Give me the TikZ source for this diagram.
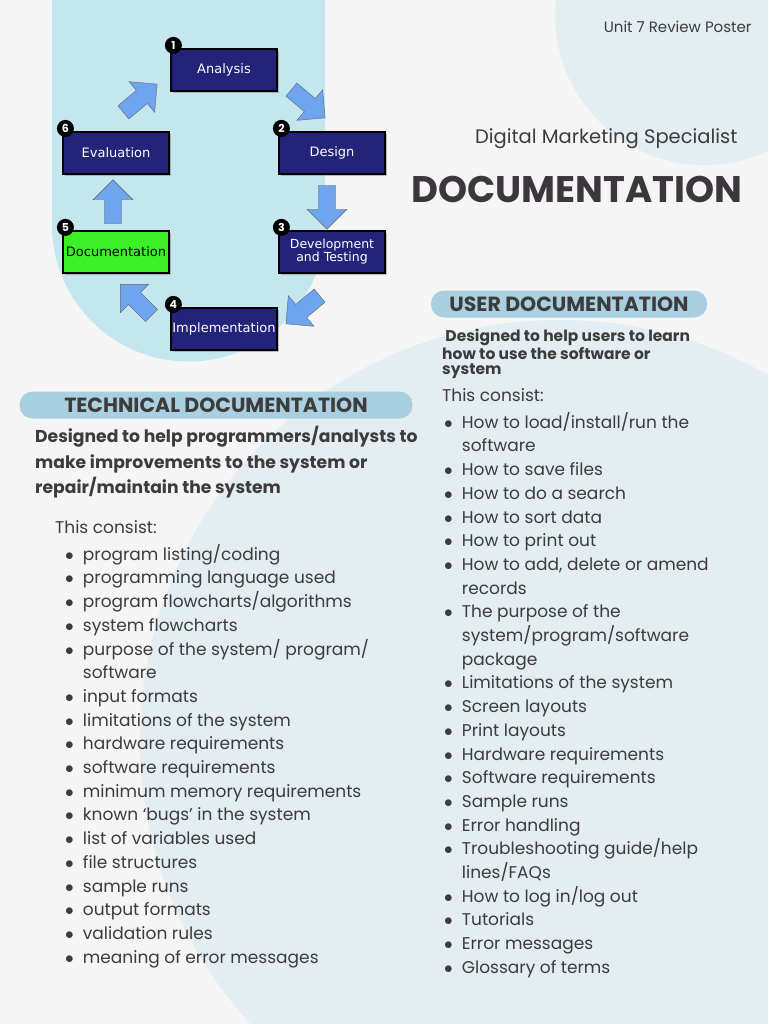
\documentclass[tikz,border=0pt]{standalone}
\usepackage{fontspec}
\setmainfont{Poppins}
\newfontfamily\stagefont{DejaVu Sans}
\usetikzlibrary{shapes.arrows,shadows}
\definecolor{bgc}{HTML}{F5F5F5}
\definecolor{pale}{HTML}{E4EDF1}
\definecolor{skyb}{HTML}{C4E6EF}
\definecolor{pill}{HTML}{A9CFE0}
\definecolor{txt}{HTML}{3C3C3C}
\definecolor{navy}{HTML}{23237A}
\definecolor{arr}{HTML}{6FA4EE}
\tikzset{
  stage/.style={draw=black,line width=1.2pt,fill=navy,text=white,minimum width=106pt,minimum height=42pt,font=\fontsize{13}{14}\selectfont\stagefont,align=center,inner xsep=1pt,drop shadow={shadow xshift=2pt,shadow yshift=-2pt}},
  num/.style={circle,fill=black,text=white,inner sep=0pt,minimum size=17pt,font=\fontsize{11}{11}\selectfont\bfseries},
  barrow/.style={single arrow,draw=black!60,fill=arr,minimum height=44pt,minimum width=40pt,single arrow head extend=7pt,inner sep=5pt},
  pilllab/.style={rounded corners=13pt,fill=pill,text=txt,font=\fontsize{20.5}{21}\selectfont\bfseries,inner sep=0pt},
  body/.style={text=txt,font=\fontsize{17}{23.7}\selectfont,align=left,anchor=north west,inner sep=0pt},
}
\begin{document}
\begin{tikzpicture}[x=1pt,y=-1pt]
\useasboundingbox (0,0) rectangle (768,1024);
\begin{scope}
\clip (0,0) rectangle (768,1024);
\fill[bgc] (0,0) rectangle (768,1024);
\fill[pale] (560,740) circle (420);
\fill[pale] (705,15) circle (150);
\fill[skyb] (52,0) -- (325,0) -- (325,225) arc[start angle=0,end angle=180,radius=136.5] -- cycle;
\end{scope}
% stages
\node[stage] (a) at (224,70) {Analysis};
\node[stage] (d) at (332,153) {Design};
\node[stage] (e) at (116,153) {Evaluation};
\node[stage,text=black,fill={rgb,255:red,60;green,240;blue,40}] (doc) at (116,252) {Documentation};
\node[stage,font=\fontsize{12.5}{13}\selectfont\stagefont] (dev) at (332,252) {Development\\and Testing};
\node[stage] (im) at (224,329) {Implementation};
\foreach \n/\k in {a/1,d/2,dev/3,im/4,doc/5,e/6} \node[num] at ([shift={(3pt,3pt)}]\n.north west) {\k};
% arrows
\node[barrow,rotate=-40] (r1) at (305,101) {};
\node[barrow,rotate=-90] (r2) at (327,203) {};
\node[barrow,rotate=-140] (r3) at (306,307) {};
\node[barrow,rotate=135] (r4) at (139,303) {};
\node[barrow,rotate=90] (r5) at (113,206) {};
\node[barrow,rotate=40] (r6) at (137,101) {};
% header
\node[text=txt,font=\fontsize{15}{16}\selectfont,anchor=east] (unit) at (755,27) {Unit 7 Review Poster};
\node[text=txt,font=\fontsize{19.5}{20}\selectfont,anchor=east] (dms) at (741,139) {Digital Marketing Specialist};
\node[text={rgb,255:red,60;green,55;blue,60},font=\fontsize{37}{38}\selectfont\bfseries,anchor=east] (title) at (746,189) {DOCUMENTATION};
% technical
\node[pilllab,minimum width=393pt,minimum height=27pt] (tp) at (216,405) {TECHNICAL DOCUMENTATION};
\node[body,font=\fontsize{17.2}{25.5}\selectfont\bfseries] (td) at (35,426) {Designed to help programmers/analysts to\\make improvements to the system or\\repair/maintain the system};
\node[body] (tc) at (55,520) {This consist:};
\node[body] (tl) at (65,544) {%
$\bullet$\ \ program listing/coding\\
$\bullet$\ \ programming language used\\
$\bullet$\ \ program flowcharts/algorithms\\
$\bullet$\ \ system flowcharts\\
$\bullet$\ \ purpose of the system/ program/\\
\phantom{$\bullet$\ \ }software\\
$\bullet$\ \ input formats\\
$\bullet$\ \ limitations of the system\\
$\bullet$\ \ hardware requirements\\
$\bullet$\ \ software requirements\\
$\bullet$\ \ minimum memory requirements\\
$\bullet$\ \ known ‘bugs’ in the system\\
$\bullet$\ \ list of variables used\\
$\bullet$\ \ file structures\\
$\bullet$\ \ sample runs\\
$\bullet$\ \ output formats\\
$\bullet$\ \ validation rules\\
$\bullet$\ \ meaning of error messages};
% user
\node[pilllab,minimum width=276pt,minimum height=27pt] (up) at (569,304) {USER DOCUMENTATION};
\node[body,font=\fontsize{15.5}{15.5}\selectfont\bfseries] (ud) at (442,329) {\ Designed to help users to learn\\how to use the software or\\system};
\node[body] (uc) at (442,388) {This consist:};
\node[body] (ul) at (444,412) {%
$\bullet$\ \ How to load/install/run the\\
\phantom{$\bullet$\ \ }software\\
$\bullet$\ \ How to save files\\
$\bullet$\ \ How to do a search\\
$\bullet$\ \ How to sort data\\
$\bullet$\ \ How to print out\\
$\bullet$\ \ How to add, delete or amend\\
\phantom{$\bullet$\ \ }records\\
$\bullet$\ \ The purpose of the\\
\phantom{$\bullet$\ \ }system/program/software\\
\phantom{$\bullet$\ \ }package\\
$\bullet$\ \ Limitations of the system\\
$\bullet$\ \ Screen layouts\\
$\bullet$\ \ Print layouts\\
$\bullet$\ \ Hardware requirements\\
$\bullet$\ \ Software requirements\\
$\bullet$\ \ Sample runs\\
$\bullet$\ \ Error handling\\
$\bullet$\ \ Troubleshooting guide/help\\
\phantom{$\bullet$\ \ }lines/FAQs\\
$\bullet$\ \ How to log in/log out\\
$\bullet$\ \ Tutorials\\
$\bullet$\ \ Error messages\\
$\bullet$\ \ Glossary of terms};
\end{tikzpicture}
\end{document}
